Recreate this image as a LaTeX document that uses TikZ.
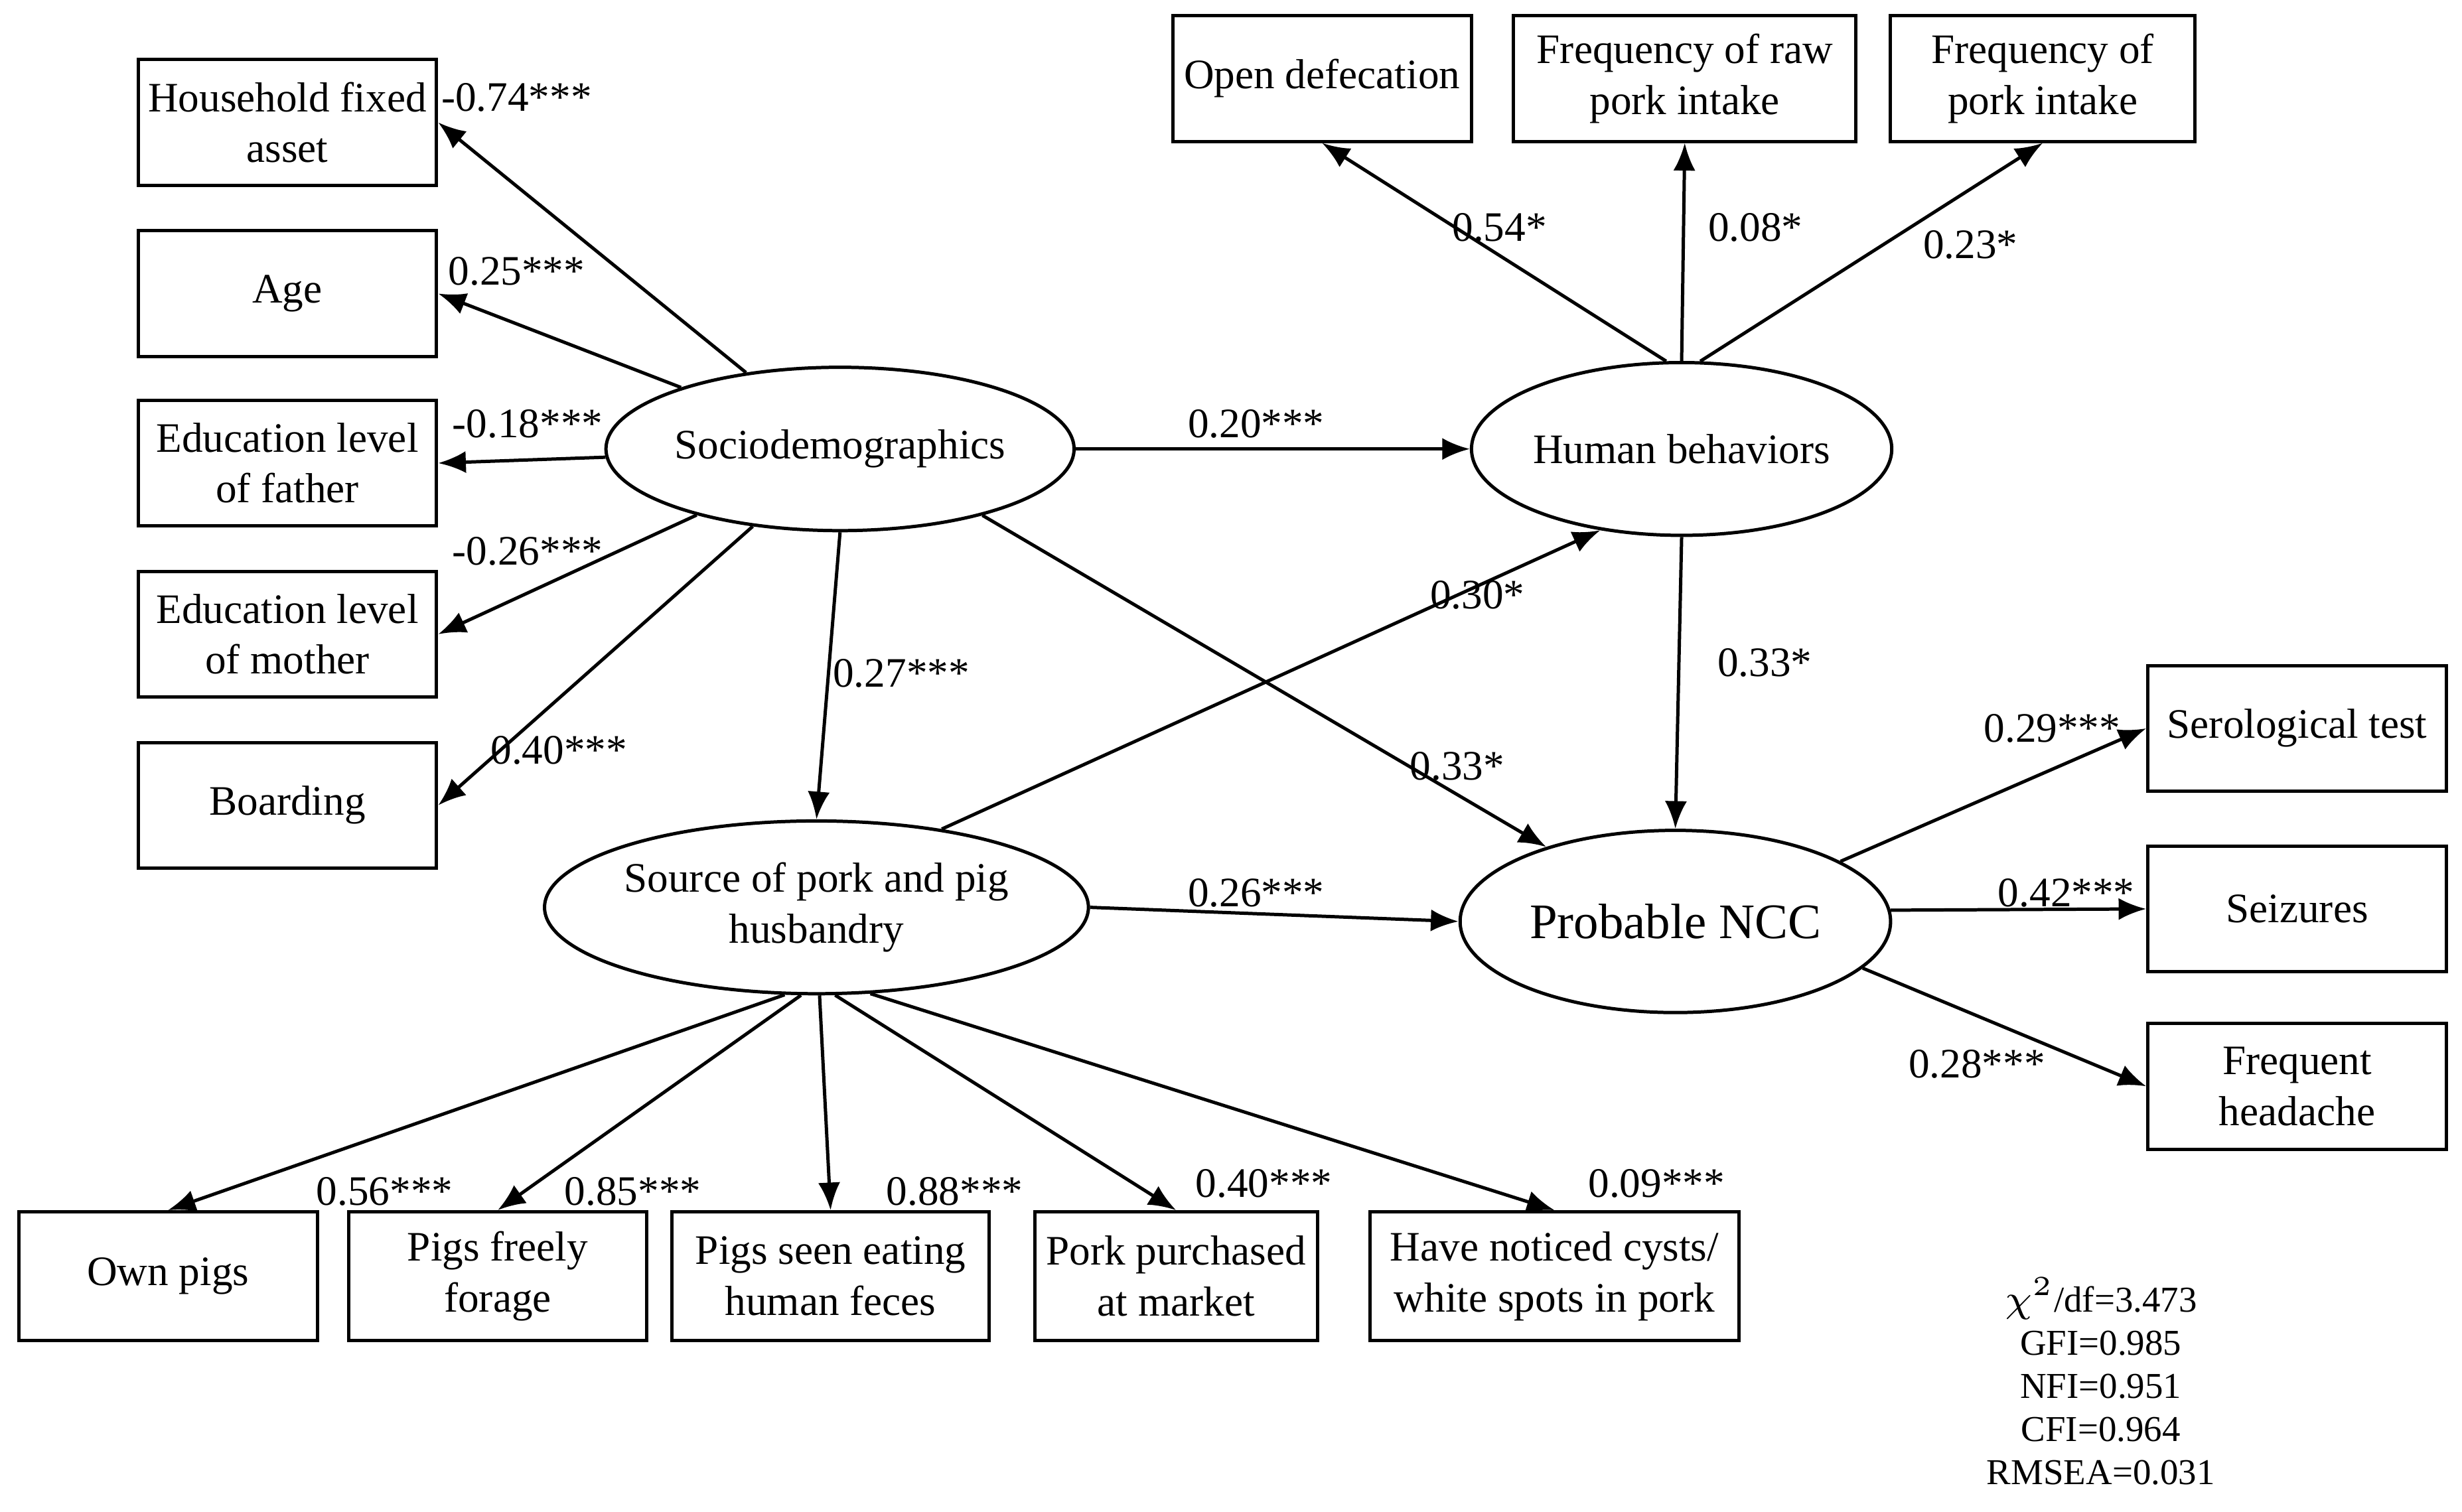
\documentclass[tikz,border=0pt]{standalone}
\usepackage{fontspec}
\setmainfont{Liberation Serif}
\usetikzlibrary{shapes.geometric,arrows.meta}
\begin{document}
\begin{tikzpicture}[x=0.01cm,y=-0.01cm,
    font=\fontsize{7.6}{9.2}\selectfont,
    box/.style={draw,line width=0.6pt,minimum width=1.9cm,minimum height=0.8cm,align=center,inner sep=1pt},
    lat/.style={draw,ellipse,line width=0.6pt,inner sep=0pt,align=center},
    arr/.style={-{Latex[length=5pt,width=4pt]},line width=0.6pt},
    coef/.style={inner sep=0pt}]

\useasboundingbox (0,0) rectangle (1568,963);

% indicator boxes, left
\node[box] (hfa) at (183,78)  {Household fixed\\asset};
\node[box] (age) at (183,187) {Age};
\node[box] (edf) at (183,295) {Education level\\of father};
\node[box] (edm) at (183,404) {Education level\\of mother};
\node[box] (brd) at (183,513) {Boarding};

% indicator boxes, top
\node[box] (od)  at (842,50)  {Open defecation};
\node[box,minimum width=2.18cm] (frp) at (1073,50) {Frequency of raw\\pork intake};
\node[box,minimum width=1.94cm] (fpi) at (1301,50) {Frequency of\\pork intake};

% indicator boxes, right
\node[box] (ser) at (1463,464) {Serological test};
\node[box] (sei) at (1463,579) {Seizures};
\node[box] (hea) at (1463,692) {Frequent\\headache};

% indicator boxes, bottom
\node[box,minimum width=1.9cm,minimum height=0.82cm] (own) at (107,813) {Own pigs};
\node[box,minimum width=1.9cm,minimum height=0.82cm] (pff) at (317,813) {Pigs freely\\forage};
\node[box,minimum width=2.02cm,minimum height=0.82cm] (pse) at (529,813) {Pigs seen eating\\human feces};
\node[box,minimum width=1.8cm,minimum height=0.82cm] (ppm) at (749,813) {Pork purchased\\at market};
\node[box,minimum width=2.35cm,minimum height=0.82cm] (hnc) at (990,813) {Have noticed cysts/\\white spots in pork};

% latent variables
\node[lat,minimum width=2.34cm,minimum height=1.04cm] (soc) at (535,286) {Sociodemographics};
\node[lat,minimum width=2.62cm,minimum height=1.1cm] (hb) at (1071,286) {Human behaviors};
\node[lat,minimum width=2.64cm,minimum height=1.1cm] (src) at (520,578) {Source of pork and pig\\husbandry};
\node[lat,minimum width=2.74cm,minimum height=1.16cm,font=\fontsize{9}{10}\selectfont] (ncc) at (1067,587) {Probable NCC};

% arrows
\draw[arr] (soc) -- (hfa.east);
\draw[arr] (soc) -- (age.east);
\draw[arr] (soc) -- (edf.east);
\draw[arr] (soc) -- (edm.east);
\draw[arr] (soc) -- (brd.east);
\draw[arr] (hb.100) -- (od.south);
\draw[arr] (hb.north) -- (frp.south);
\draw[arr] (hb.78) -- (fpi.south);
\draw[arr] (ncc.20) -- (ser.west);
\draw[arr] (ncc.3) -- (sei.west);
\draw[arr] (ncc.-14) -- (hea.west);
\draw[arr] (src.-110) -- (own.north);
\draw[arr] (src.-100) -- (pff.north);
\draw[arr] (src.-88) -- (pse.north);
\draw[arr] (src.-78) -- (ppm.north);
\draw[arr] (src.-58) -- (hnc.north);
\draw[arr] (soc.east) -- (hb.west);
\draw[arr] (soc.south) -- (src.north);
\draw[arr] (soc.-25) -- (ncc.150);
\draw[arr] (src.32) -- (hb.-135);
\draw[arr] (src.east) -- (ncc.west);
\draw[arr] (hb.south) -- (ncc.north);

% coefficients
\node[coef] (c1) at (329,62) {-0.74***};
\node[coef] (c2) at (329,173) {0.25***};
\node[coef] (c3) at (336,270) {-0.18***};
\node[coef] (c4) at (336,351) {-0.26***};
\node[coef] (c5) at (356,478) {0.40***};
\node[coef] (c6) at (800,270) {0.20***};
\node[coef] (c7) at (574,429) {0.27***};
\node[coef] (c8) at (941,379) {0.30*};
\node[coef] (c9) at (928,488) {0.33*};
\node[coef] (c10) at (800,569) {0.26***};
\node[coef] (c11) at (1124,422) {0.33*};
\node[coef] (c12) at (955,145) {0.54*};
\node[coef] (c13) at (1118,145) {0.08*};
\node[coef] (c14) at (1255,156) {0.23*};
\node[coef] (c15) at (1307,464) {0.29***};
\node[coef] (c16) at (1316,569) {0.42***};
\node[coef] (c17) at (1259,678) {0.28***};
\node[coef] (c18) at (245,759) {0.56***};
\node[coef] (c19) at (403,759) {0.85***};
\node[coef] (c20) at (608,759) {0.88***};
\node[coef] (c21) at (805,754) {0.40***};
\node[coef] (c22) at (1055,754) {0.09***};

% fit indices
\node[coef,align=center,font=\fontsize{6.6}{7.8}\selectfont] (fit) at (1338,880)
  {$\chi^{2}$/df=3.473\\GFI=0.985\\NFI=0.951\\CFI=0.964\\RMSEA=0.031};

\end{tikzpicture}
\end{document}
